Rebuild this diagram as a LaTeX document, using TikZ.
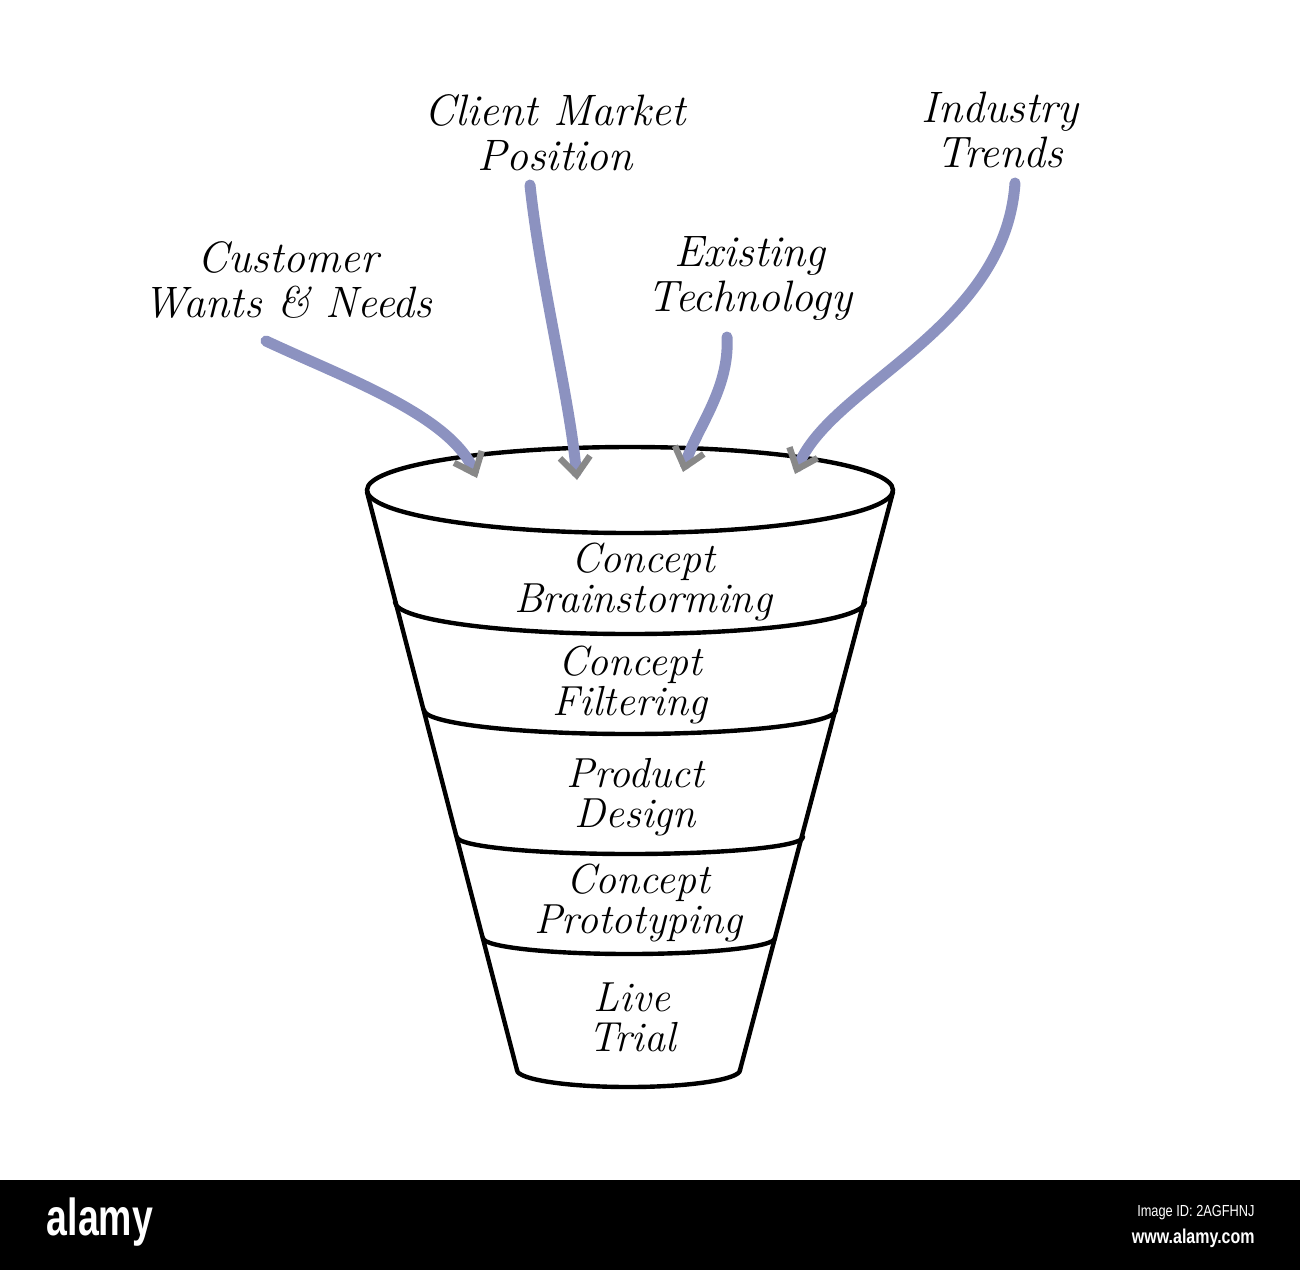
\documentclass[tikz,border=0pt]{standalone}
\usepackage{fontspec}
\usepackage{tikz}
\usetikzlibrary{arrows.meta}
\newfontfamily\barfont{Liberation Sans}

\definecolor{shaftblue}{RGB}{140,146,192}
\definecolor{headgray}{RGB}{136,136,136}

\tikzset{
  funnelline/.style={line width=2.2pt, line cap=round},
  toplabel/.style={align=center, inner sep=0pt, font=\fontsize{22}{22.5}\selectfont\itshape},
  stagelabel/.style={align=center, inner sep=0pt, font=\fontsize{21}{20}\selectfont\itshape},
  feed/.style={line width=5.5pt, color=shaftblue, line cap=round,
    -{Straight Barb[length=9pt,width=15pt,color=headgray,line width=3.2pt]}}
}

\begin{document}
\begin{tikzpicture}[x=0.5pt,y=0.5pt,yscale=-1,xscale=1]
\useasboundingbox (0,0) rectangle (1300,1270);
\fill[white] (0,0) rectangle (1300,1270);

%Funnel top
\draw[funnelline] (630,490) ellipse [x radius=263, y radius=43];
%Funnel sides
\draw[funnelline] (367,492) -- (517,1070);
\draw[funnelline] (893,492) -- (740,1070);
%Band lines
\draw[funnelline] (395,602) arc [start angle=180, end angle=0, x radius=235, y radius=32];
\draw[funnelline] (424,710) arc [start angle=180, end angle=0, x radius=206, y radius=24];
\draw[funnelline] (457,837) arc [start angle=180, end angle=0, x radius=173, y radius=17];
\draw[funnelline] (483,938) arc [start angle=180, end angle=0, x radius=146, y radius=16];
\draw[funnelline] (517,1070) arc [start angle=180, end angle=0, x radius=111.5, y radius=17];

% Text Node
\node[stagelabel] (s1) at (643,582) {Concept\\Brainstorming};
% Text Node
\node[stagelabel] (s2) at (630,685) {Concept\\Filtering};
% Text Node
\node[stagelabel] (s3) at (635,797) {Product\\Design};
% Text Node
\node[stagelabel] (s4) at (638,903) {Concept\\Prototyping};
% Text Node
\node[stagelabel] (s5) at (632,1017) {Live\\Trial};

% Text Node
\node[toplabel] (cust) at (288,280) {Customer\\Wants \& Needs};
% Text Node
\node[toplabel] (client) at (555,133) {Client Market\\Position};
% Text Node
\node[toplabel] (exist) at (750,278) {Existing\\Technology};
% Text Node
\node[toplabel] (industry) at (1000,130) {Industry\\Trends};

%Arrow ends
\coordinate (custtail) at (266,341);
\coordinate (custhead) at (477,478);
\coordinate (clienttail) at (530,185);
\coordinate (clienthead) at (577,480);
\coordinate (existtail) at (727,337);
\coordinate (existhead) at (683,472);
\coordinate (industrytail) at (1015,183);
\coordinate (industryhead) at (795,474);

%Arrows into the funnel
\draw[feed] (custtail) .. controls (345,378) and (450,415) .. (custhead);
\draw[feed] (clienttail) .. controls (540,280) and (570,400) .. (clienthead);
\draw[feed] (existtail) .. controls (730,390) and (695,430) .. (existhead);
\draw[feed] (industrytail) .. controls (1005,330) and (830,385) .. (industryhead);

%Bottom bar
\fill[black] (0,1180) rectangle (1300,1270);
\node[white, inner sep=0pt] (brand) at (100,1222) {\scalebox{0.72}[1]{\barfont\bfseries\fontsize{26}{26}\selectfont alamy}};
\node[white, anchor=east, inner sep=0pt] (imgid) at (1255,1213) {\scalebox{0.8}[1]{\barfont\fontsize{8}{8}\selectfont Image ID: 2AGFHNJ}};
\node[white, anchor=east, inner sep=0pt] (site) at (1255,1238) {\scalebox{0.8}[1]{\barfont\bfseries\fontsize{10}{10}\selectfont www.alamy.com}};

\end{tikzpicture}
\end{document}
